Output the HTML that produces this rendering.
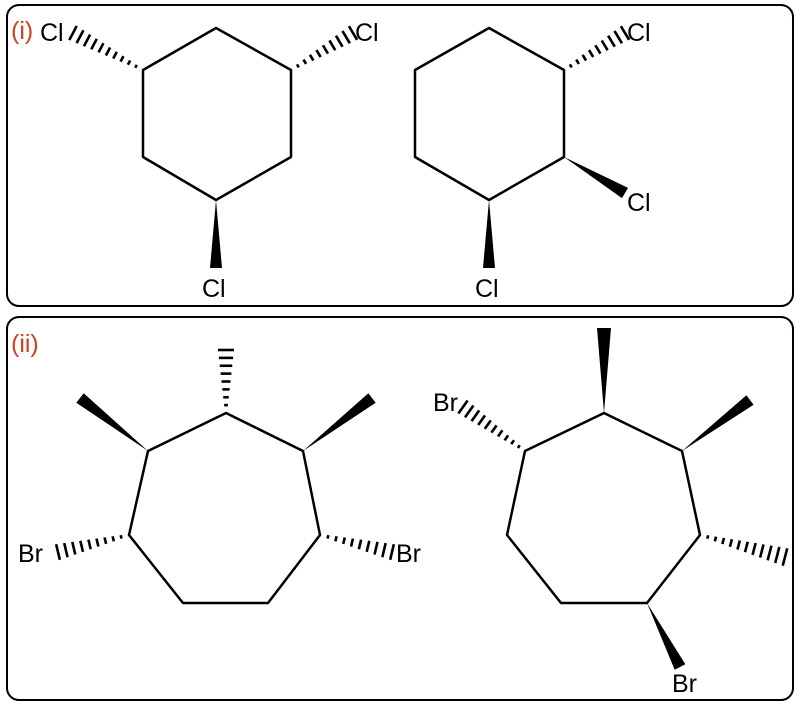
<!DOCTYPE html><html><head><style>body{margin:0;background:#fff}svg{display:block}text{font-family:"Liberation Sans",sans-serif;font-size:25px}</style></head><body>
<svg id="s" width="800" height="707" xmlns="http://www.w3.org/2000/svg">
<rect x="7" y="5" width="786" height="301" rx="12" fill="none" stroke="#000" stroke-width="2"/>
<rect x="7" y="317" width="786" height="383" rx="12" fill="none" stroke="#000" stroke-width="2"/>
<text x="11" y="39" fill="#d2401f">(i)</text>
<text x="11" y="352" fill="#d2401f">(ii)</text>
<g fill="none" stroke="#000" stroke-width="2.5" stroke-linejoin="round">
<polygon points="216,28 291,70 291,157 216,200 143,157 143,70"/>
<polygon points="489,28 564,70 564,157 489,200 415,157 415,70"/>
<polygon points="226,413 303,451 320,535 268,603 183,603 129,535 148,451"/>
<polygon points="604,413 682,451 700,535 647,603 561,603 507,535 525,451"/>
</g>
<g id="st"></g>
<text x="40" y="41">Cl</text>
<text x="355" y="41">Cl</text>
<text x="202" y="297">Cl</text>
<text x="627" y="41">Cl</text>
<text x="627" y="211">Cl</text>
<text x="475" y="297">Cl</text>
<text x="18" y="562">Br</text>
<text x="396" y="562">Br</text>
<text x="433" y="411">Br</text>
<text x="672" y="692">Br</text>
</svg>
<script>
var g=document.getElementById('st'),ns='http://www.w3.org/2000/svg';
function wedge(x1,y1,x2,y2,w){var dx=x2-x1,dy=y2-y1,l=Math.hypot(dx,dy),px=-dy/l*w,py=dx/l*w;
var p=document.createElementNS(ns,'polygon');p.setAttribute('points',x1+','+y1+' '+(x2+px)+','+(y2+py)+' '+(x2-px)+','+(y2-py));g.appendChild(p);}
function hash(x1,y1,x2,y2,w){var dx=x2-x1,dy=y2-y1,l=Math.hypot(dx,dy),ux=-dy/l,uy=dx/l,n=Math.round(l/8);
for(var i=1;i<=n;i++){var t=i/n,cx=x1+dx*t,cy=y1+dy*t,h=1+w*t;var L=document.createElementNS(ns,'line');
L.setAttribute('x1',cx+ux*h);L.setAttribute('y1',cy+uy*h);L.setAttribute('x2',cx-ux*h);L.setAttribute('y2',cy-uy*h);L.setAttribute('stroke','#000');L.setAttribute('stroke-width','2.6');g.appendChild(L);}}
hash(143,70,73,33,7);hash(291,70,353,33,7);wedge(216,200,216,268,6);
hash(564,70,625,33,7);wedge(564,157,625,193,6);wedge(489,200,489,268,6);
hash(226,413,226,350,7);wedge(148,451,80,398,6);wedge(303,451,372,398,6);
hash(129,535,58,552,7);hash(320,535,392,552,7);
wedge(604,413,604,328,7);wedge(682,451,750,400,6);hash(700,535,785,557,8);
wedge(647,603,680,667,6);hash(525,451,463,407,7);
</script>
</body></html>
